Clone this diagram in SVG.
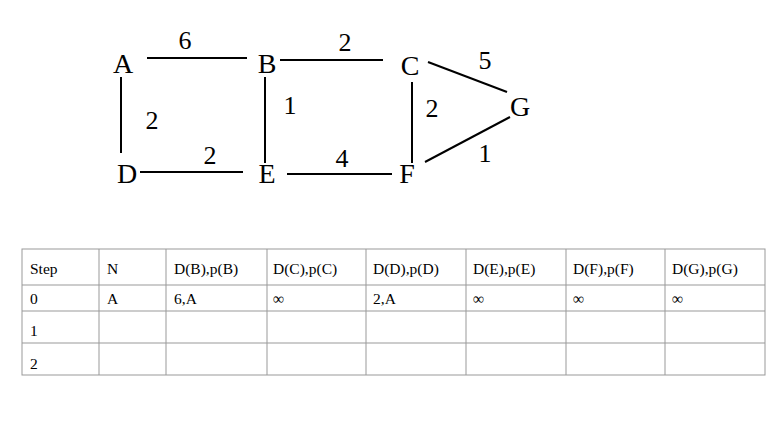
<svg xmlns="http://www.w3.org/2000/svg" width="780" height="424" viewBox="0 0 780 424">
<style>
.n{font-family:"Liberation Serif",serif;font-size:28px;text-anchor:middle;dominant-baseline:central;fill:#000}
.w{font-family:"Liberation Serif",serif;font-size:26px;text-anchor:middle;dominant-baseline:central;fill:#000}
.e{stroke:#000;stroke-width:2;fill:none}
.g{stroke:#999;stroke-width:1;fill:none}
.t{font-family:"Liberation Serif",serif;font-size:15.5px;fill:#000}
</style>
<rect width="780" height="424" fill="#fff"/>
<g id="connectors">
<line class="e" x1="147" y1="58" x2="247" y2="58"/>
<line class="e" x1="280" y1="60" x2="383" y2="60"/>
<line class="e" x1="121" y1="77" x2="121" y2="153"/>
<line class="e" x1="265" y1="77" x2="265" y2="163"/>
<line class="e" x1="140" y1="172" x2="243" y2="172"/>
<line class="e" x1="287" y1="174" x2="392" y2="174"/>
<line class="e" x1="412" y1="82" x2="412" y2="163"/>
<line class="e" x1="428" y1="62" x2="507" y2="92"/>
<line class="e" x1="425" y1="162" x2="510" y2="117"/>
<text class="w" x="185" y="40">6</text>
<text class="w" x="345" y="42">2</text>
<text class="w" x="485" y="60">5</text>
<text class="w" x="152" y="120">2</text>
<text class="w" x="290" y="105">1</text>
<text class="w" x="432" y="108">2</text>
<text class="w" x="210" y="155">2</text>
<text class="w" x="342" y="158">4</text>
<text class="w" x="485" y="153">1</text>
</g>
<g id="A"><text class="n" x="123" y="63">A</text></g>
<g id="B"><text class="n" x="267" y="63">B</text></g>
<g id="C"><text class="n" x="410" y="65">C</text></g>
<g id="G"><text class="n" x="520" y="106">G</text></g>
<g id="D"><text class="n" x="127" y="173">D</text></g>
<g id="E"><text class="n" x="267" y="173">E</text></g>
<g id="F"><text class="n" x="407" y="173">F</text></g>
<g id="table">
<rect class="g" x="22" y="249" width="743" height="126"/>
<line class="g" x1="22" y1="285" x2="765" y2="285"/>
<line class="g" x1="22" y1="311" x2="765" y2="311"/>
<line class="g" x1="22" y1="343" x2="765" y2="343"/>
<line class="g" x1="99" y1="249" x2="99" y2="375"/>
<line class="g" x1="166" y1="249" x2="166" y2="375"/>
<line class="g" x1="267" y1="249" x2="267" y2="375"/>
<line class="g" x1="366" y1="249" x2="366" y2="375"/>
<line class="g" x1="466" y1="249" x2="466" y2="375"/>
<line class="g" x1="566" y1="249" x2="566" y2="375"/>
<line class="g" x1="665" y1="249" x2="665" y2="375"/>
<text class="t" x="30" y="274">Step</text>
<text class="t" x="107" y="274">N</text>
<text class="t" x="174" y="274">D(B),p(B)</text>
<text class="t" x="273" y="274">D(C),p(C)</text>
<text class="t" x="373" y="274">D(D),p(D)</text>
<text class="t" x="473" y="274">D(E),p(E)</text>
<text class="t" x="573" y="274">D(F),p(F)</text>
<text class="t" x="672" y="274">D(G),p(G)</text>
<text class="t" x="30" y="304">0</text>
<text class="t" x="107" y="304">A</text>
<text class="t" x="174" y="304">6,A</text>
<text class="t" x="273" y="304">∞</text>
<text class="t" x="373" y="304">2,A</text>
<text class="t" x="473" y="304">∞</text>
<text class="t" x="573" y="304">∞</text>
<text class="t" x="672" y="304">∞</text>
<text class="t" x="30" y="336">1</text>
<text class="t" x="30" y="369">2</text>
</g>
</svg>
